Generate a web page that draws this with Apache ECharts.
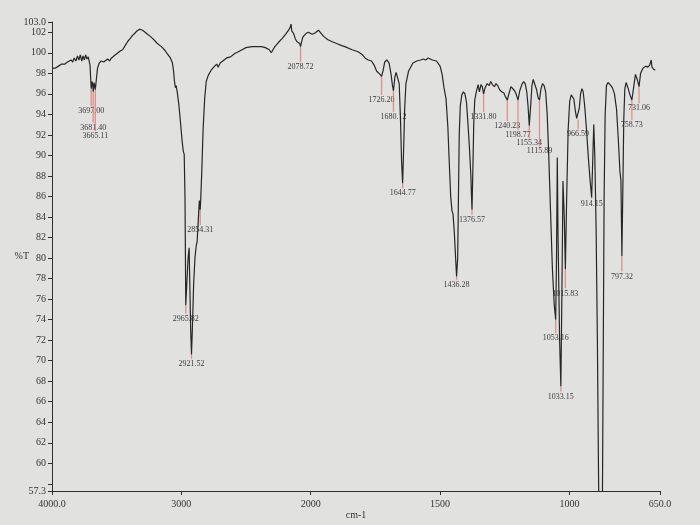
<!DOCTYPE html>
<html><head><meta charset="utf-8">
<script src="https://cdn.jsdelivr.net/npm/echarts@6/dist/echarts.min.js"></script>
<style>html,body{margin:0;padding:0;background:#e1e2e0}#c{width:700px;height:525px}</style>
</head><body><div id="c"></div>
<script>
// Spectrum: wavenumber (cm-1) and %T
const wavenumbers = [4000,3975,3950,3925,3900,3880,3865,3852,3840,3828,3815,3803,3792,3781,3770,3760,3750,3740,3730,3720,3712,3706,3701,3697,3690,3685,3681.4,3675,3670,3665.1,3658,3648,3635,3620,3600,3585,3570,3555,3540,3530,3510,3490,3470,3454,3430,3415,3395,3377,3360,3346,3323,3300,3280,3262,3240,3223,3200,3185,3165,3146,3125,3108,3085,3069,3060,3054,3046,3040,3031,3020,3008,2995,2985,2978,2972,2968,2966,2958,2948,2940,2934,2928,2921.5,2914,2905,2895,2885,2878,2870,2861,2856,2854.3,2850,2842,2832,2820,2808,2792,2770,2750,2727,2716,2710,2700,2680,2650,2620,2590,2560,2531,2500,2454,2420,2380,2351,2320,2305,2292,2277,2250,2220,2195,2171,2158,2152,2146,2133,2120,2108,2095,2085,2078.7,2072,2062,2050,2035,2018,2005,1995,1985,1970,1960,1950,1935,1919,1900,1880,1868,1840,1817,1800,1790,1778,1765,1755,1745,1738,1732,1726.2,1720,1714,1706,1697,1690,1684,1680.1,1675,1670,1665,1658,1653,1649,1644.8,1641,1637,1632,1622,1605,1590,1575,1565,1555,1546,1530,1514,1500,1492,1485,1477,1470,1465,1459,1454,1450,1445,1440,1436.3,1432,1429,1426,1422,1416,1410,1404,1398,1392,1386,1381,1378.5,1376.6,1373,1370,1366,1360,1353,1348,1342,1337,1331.8,1326,1318,1310,1304,1298,1290,1284,1277,1270,1262,1254,1247,1240.2,1233,1226,1220,1212,1205,1198.8,1192,1184,1177,1171,1165,1160,1155.3,1150,1145,1140,1134,1127,1121,1115.9,1110,1104,1098,1092,1086,1080,1073,1066,1059,1053.2,1050,1047,1044,1038,1033.2,1029,1025,1020,1015.8,1011,1005,999,993,988,983,977,972,966.6,962,957,952,947,941,934,927,920,914.2,910,906,902,897,892,888,884,874,870,866,862,857,851,843,834,826,818,811,805,801,797.3,794,790,786,781,774,766,758.7,752,745,738,731.1,725,716,705,697,690,684,681,675,668];
const transmittance = [98.5,98.5,98.7,98.9,98.9,99.1,99.0,99.3,99.1,99.5,99.2,99.7,99.3,99.8,99.2,99.7,99.3,99.8,99.4,99.6,99.7,98.8,97.5,96.5,97.2,96.9,96.2,97.1,96.8,96.4,97.3,98.5,99.0,99.2,99.1,99.2,99.4,99.2,99.5,99.5,99.8,100.0,100.2,100.3,100.8,101.1,101.4,101.7,101.9,102.1,102.3,102.2,102.0,101.8,101.6,101.4,101.1,100.9,100.7,100.5,100.2,99.9,99.5,99.0,98.2,97.3,96.6,96.8,96.1,95.0,93.4,91.5,90.4,90.1,86,79,75.4,77.5,80.0,81.0,77.0,73.0,70.6,73.5,77.5,80.0,81.2,81.6,83.5,85.6,84.9,84.7,85.8,88.5,92.5,95.5,97.2,97.8,98.3,98.6,98.9,98.6,98.5,99.0,99.2,99.5,99.6,99.9,100.1,100.3,100.5,100.6,100.6,100.6,100.5,100.3,100.0,100.3,100.6,101.0,101.4,101.8,102.2,102.5,102.8,102.1,101.9,101.4,101.1,101.1,100.9,100.6,101.0,101.5,101.7,101.9,102.0,102.0,101.8,101.9,102.2,101.9,101.6,101.3,101.1,100.9,100.7,100.6,100.3,100.1,99.8,99.5,99.3,99.2,98.8,98.2,98.1,97.9,97.7,98.3,99.1,99.3,99.0,98.0,96.8,96.3,97.6,98.1,98.0,97.0,93.5,89.5,87.3,90.5,94.5,97.0,98.2,99.0,99.2,99.3,99.4,99.3,99.5,99.3,99.2,98.7,97.9,96.6,95.5,92.8,89.6,86.0,84.6,84.3,82.5,80.0,78.2,80.0,86.0,92.0,94.8,95.9,96.2,96.0,95.2,93.0,90.5,88.0,86.0,84.7,89.0,93.0,95.4,96.2,96.9,96.2,96.9,96.7,96.0,96.6,97.0,96.8,97.2,96.9,96.7,97.0,96.8,96.4,96.2,96.1,95.7,95.4,96.1,96.7,96.6,96.3,95.9,95.4,96.3,96.9,97.2,97.0,96.2,94.8,92.9,94.8,96.8,97.4,97.3,96.4,95.6,95.4,96.5,97.0,96.8,96.2,94.0,90.0,84.5,79.0,75.5,74.0,80.0,89.8,82.0,72.0,67.5,77.0,87.5,84.0,78.9,85.5,92.5,95.3,95.9,95.9,95.5,94.3,93.6,93.5,94.6,96.0,96.5,96.2,94.8,92.5,89.8,87.5,85.9,89.5,93.0,90.0,83.0,72.0,60.0,50.0,50.0,68.0,86.0,94.0,96.8,97.1,96.9,96.6,96.0,94.5,91.5,88.5,87.5,80.2,86.0,93.5,96.5,97.1,96.6,95.9,95.4,96.6,97.9,97.4,96.7,98.0,98.5,98.7,98.6,98.8,99.3,98.6,98.4,98.3];

// Peak annotations
const peakLabels = ['3697.00','3681.40','3665.11','2965.82','2921.52','2854.31','2078.72','1726.20','1680.12','1644.77','1436.28','1376.57','1331.80','1240.23','1198.77','1155.34','1115.89','1053.16','1033.15','1015.83','966.59','914.15','797.32','758.73','731.06'];
const peakLabelT = [94.3,92.7,91.9,74.1,69.7,82.7,98.6,95.4,93.75,86.3,77.4,83.7,93.75,92.85,92.0,91.2,90.4,72.2,66.5,76.55,92.05,85.3,78.2,92.95,94.6];

// Axis ticks
const xTickWn = [4000,3000,2000,1500,1000,650];
const xTickLabels = ['4000.0','3000','2000','1500','1000','650.0'];
const yTickValues = [57.3,58,60,62,64,66,68,70,72,74,76,78,80,82,84,86,88,90,92,94,96,98,100,102,103];
const yLabelValues = [57.3,60,62,64,66,68,70,72,74,76,78,80,82,84,86,88,90,92,94,96,98,100,102,103];

// Instrument x-scale: 2x expansion below 2000 cm-1
function toU(w){ return w >= 2000 ? 4000 - w : 2000 + 2 * (2000 - w); }

const lineData = wavenumbers.map((w,i)=>[toU(w), transmittance[i]]);
function nearestT(w){
  let bi=0, bd=Infinity;
  wavenumbers.forEach((x,i)=>{const d=Math.abs(x-w); if(d<bd){bd=d;bi=i;}});
  return transmittance[bi];
}
const peakData = peakLabels.map((s,i)=>{const w=parseFloat(s); return [toU(w), nearestT(w), peakLabelT[i]];});
const xTickU = xTickWn.map(toU);

const SERIF = '"Liberation Serif","DejaVu Serif",serif';
const chart = echarts.init(document.getElementById('c'), null, {renderer:'canvas'});
chart.setOption({
  backgroundColor: '#e1e2e0',
  animation: false,
  grid: {left: 52, right: 40, top: 22, bottom: 34, containLabel: false},
  xAxis: {
    type: 'value', min: 0, max: 4700,
    axisLine: {show: true, onZero: false, lineStyle: {color: '#2e2e2e', width: 1}},
    splitLine: {show: false},
    axisTick: {show: true, customValues: xTickU, length: 4, inside: false, lineStyle: {color: '#2e2e2e'}},
    axisLabel: {customValues: xTickU, margin: 8, color: '#333', fontFamily: SERIF, fontSize: 10,
      formatter: v => { const i = xTickU.findIndex(u => Math.abs(u - v) < 1e-6); return i >= 0 ? xTickLabels[i] : ''; }},
    name: 'cm-1', nameLocation: 'middle', nameGap: 19, nameMoveOverlap: false,
    nameTextStyle: {color: '#333', fontFamily: SERIF, fontSize: 10}
  },
  yAxis: {
    type: 'value', min: 57.3, max: 103,
    axisLine: {show: true, onZero: false, lineStyle: {color: '#2e2e2e', width: 1}},
    splitLine: {show: false},
    axisTick: {show: true, customValues: yTickValues, length: 4, lineStyle: {color: '#2e2e2e'}},
    axisLabel: {customValues: yLabelValues, margin: 6, color: '#333', fontFamily: SERIF, fontSize: 10,
      formatter: v => Math.abs(v - 57.3) < 1e-6 ? '57.3' : (Math.abs(v - 103) < 1e-6 ? '103.0' : String(Math.round(v)))},
    name: '%T', nameLocation: 'middle', nameRotate: 0, nameGap: 23, nameMoveOverlap: false,
    nameTextStyle: {color: '#333', fontFamily: SERIF, fontSize: 10}
  },
  series: [
    {
      type: 'custom', z: 1, data: peakData, clip: false,
      renderItem: (params, api) => {
        const u = api.value(0), tMin = api.value(1), tLab = api.value(2);
        const p1 = api.coord([u, tMin]); const p2 = api.coord([u, tLab]);
        return {type: 'group', children: [
          {type: 'line', shape: {x1: p1[0], y1: p1[1], x2: p2[0], y2: p2[1] - 5},
           style: {stroke: 'rgba(220,110,100,0.7)', lineWidth: 1.3}},
          {type: 'text', x: p2[0], y: p2[1],
           style: {text: peakLabels[params.dataIndex], fill: '#3a3a3a', font: '8px ' + SERIF,
                   align: 'center', verticalAlign: 'middle', textAlign: 'center', textVerticalAlign: 'middle'}}
        ]};
      }
    },
    {
      type: 'line', z: 3, data: lineData, showSymbol: false, symbol: 'none', clip: true,
      lineStyle: {color: '#262626', width: 1.2}
    }
  ]
});
</script></body></html>
